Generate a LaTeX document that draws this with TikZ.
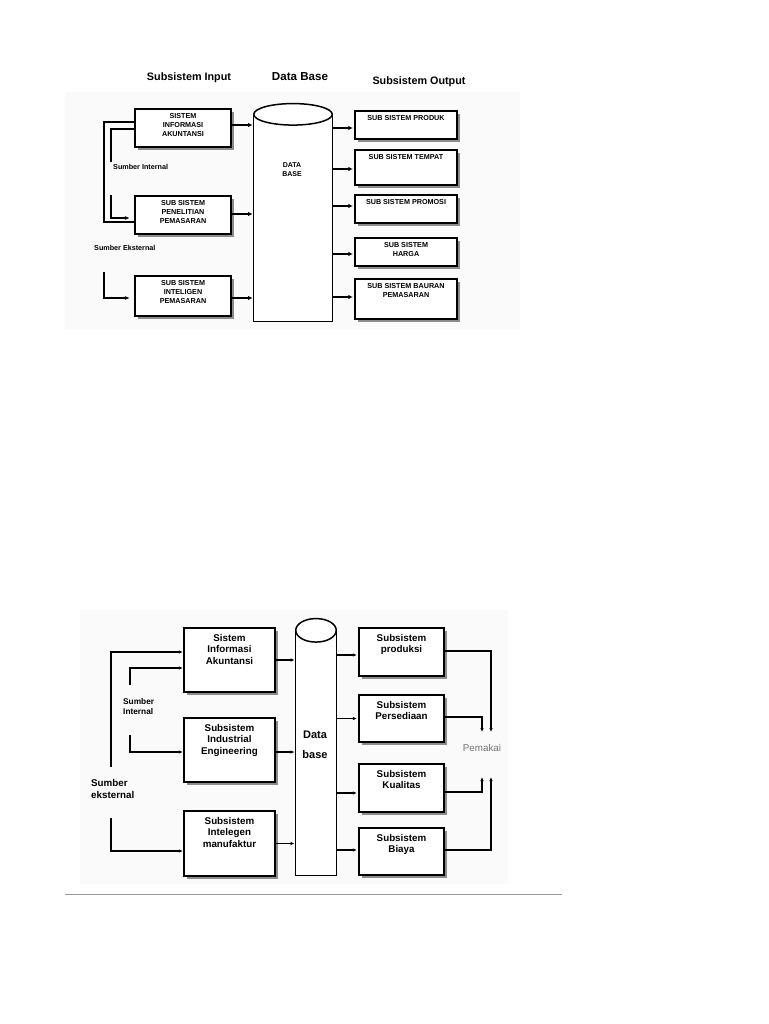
\documentclass[tikz,border=0pt]{standalone}
\usepackage{fontspec}
\setmainfont{Liberation Sans}
\usetikzlibrary{arrows.meta,shadows,positioning}

\begin{document}
\begin{tikzpicture}[x=1pt,y=-1pt,
    box/.style={draw,fill=white,line width=2.2pt,inner sep=0pt,
      drop shadow={shadow xshift=3pt,shadow yshift=-3pt,fill=black!45,opacity=1}},
    topbox/.style={box,label={[anchor=north,yshift=-5.2pt,inner sep=0pt,align=center,
      font=\fontsize{7.2}{9.2}\selectfont\bfseries]north:#1}},
    botbox/.style={box,label={[anchor=north,yshift=-7pt,inner sep=0pt,align=center,
      font=\fontsize{9.8}{11.5}\selectfont\bfseries]north:#1}},
    dbnode/.style={inner sep=0pt},
    dbline/.style={line width=1.5pt},
    head/.style={font=\fontsize{10.8}{13}\selectfont\bfseries},
    note/.style={anchor=west,align=left,inner sep=0pt},
    linkA/.style={line width=2pt},
    flowA/.style={line width=1.8pt,-{Latex[length=4.5pt,width=4.5pt]},shorten >=1pt},
    linkB/.style={line width=1.6pt},
    flowB/.style={line width=1.1pt,-{Latex[length=4pt,width=3.5pt]},shorten >=1pt},
    tipA/.style={-{Latex[length=5pt,width=4pt]},shorten >=4pt},
    tipB/.style={-{Latex[length=4pt,width=3.5pt]}}]

    \useasboundingbox (0,0) rectangle (768,1024);
    \fill[black!2] (65,92) rectangle (520,330);
    \fill[black!2] (80,610) rectangle (508,884);

    % atas
    \node[head] (hin) at (189,78) {Subsistem Input};
    \node[head,font=\fontsize{11.6}{13}\selectfont\bfseries] (hdb) at (300,77) {Data Base};
    \node[head] (hout) at (419,82) {Subsistem Output};

    \node[topbox={SISTEM\\INFORMASI\\AKUNTANSI},minimum width=96,minimum height=38] (sia) at (183,128) {};
    \node[topbox={SUB SISTEM\\PENELITIAN\\PEMASARAN},minimum width=96,minimum height=38] (riset) at (183,215) {};
    \node[topbox={SUB SISTEM\\INTELIGEN\\PEMASARAN},minimum width=96,minimum height=40] (intel) at (183,296) {};

    \node[dbnode,minimum width=78.5,minimum height=206.75] (db) at (293,217.9) {};
    \draw[dbline,fill=white] (db.north west) -- (db.south west) -- (db.south east) -- (db.north east);
    \draw[dbline,fill=white] (db.north) ellipse [x radius=39.25pt,y radius=10.75pt];
    \node[align=center,font=\fontsize{7}{9}\selectfont\bfseries] (dbt) at (292,170) {DATA\\BASE};

    \node[topbox={SUB SISTEM PRODUK},minimum width=102,minimum height=28] (produk) at (406,125) {};
    \node[topbox={SUB SISTEM TEMPAT},minimum width=102,minimum height=35] (tempat) at (406,167.5) {};
    \node[topbox={SUB SISTEM PROMOSI},minimum width=102,minimum height=28] (promosi) at (406,209) {};
    \node[topbox={SUB SISTEM\\HARGA},minimum width=102,minimum height=28] (harga) at (406,252) {};
    \node[topbox={SUB SISTEM BAURAN\\PEMASARAN},minimum width=102,minimum height=40] (bauran) at (406,299) {};

    \draw[flowA] ([yshift=3]sia.east) -- ([yshift=3]sia.east -| db.west);
    \draw[flowA] ([yshift=1]riset.east) -- ([yshift=1]riset.east -| db.west);
    \draw[flowA] ([yshift=-2]intel.east) -- ([yshift=-2]intel.east -| db.west);

    \draw[flowA] ([yshift=-3]produk.west -| db.east) -- ([yshift=-3]produk.west);
    \draw[flowA] ([yshift=-1.5]tempat.west -| db.east) -- ([yshift=-1.5]tempat.west);
    \draw[flowA] ([yshift=3]promosi.west -| db.east) -- ([yshift=3]promosi.west);
    \draw[flowA] ([yshift=-2]harga.west -| db.east) -- ([yshift=-2]harga.west);
    \draw[flowA] ([yshift=2]bauran.west -| db.east) -- ([yshift=2]bauran.west);

    \coordinate (si1) at (111,162);
    \coordinate (si2) at (111,195);
    \coordinate (se1) at (104,272);
    \draw[linkA] ([yshift=6]sia.west) -- ++(-30,0) |- ([yshift=-7]riset.west);
    \draw[linkA] ([yshift=-1]sia.west) -| (si1);
    \draw[linkA,tipA] (si2) |- ([yshift=-3]riset.west);
    \draw[linkA,tipA] (se1) |- ([yshift=-2]intel.west);

    \node[note,font=\fontsize{7.2}{9}\selectfont\bfseries] (sint) at (113,167) {Sumber Internal};
    \node[note,font=\fontsize{7.2}{9}\selectfont\bfseries] (seks) at (94,248) {Sumber Eksternal};

    % bawah
    \node[botbox={Sistem\\Informasi\\Akuntansi},minimum width=91,minimum height=64] (sia2) at (229.5,660) {};
    \node[botbox={Subsistem\\Industrial\\Engineering},minimum width=91,minimum height=64] (ie) at (229.5,750) {};
    \node[botbox={Subsistem\\Intelegen\\manufaktur},minimum width=91,minimum height=65] (im) at (229.5,843.5) {};

    \node[dbnode,minimum width=40.5,minimum height=244.75] (db2) at (316,752.9) {};
    \draw[dbline,fill=white] (db2.north west) -- (db2.south west) -- (db2.south east) -- (db2.north east);
    \draw[dbline,fill=white] (db2.north) ellipse [x radius=20.25pt,y radius=11.75pt];
    \node[align=center,font=\fontsize{11}{20}\selectfont\bfseries] (dbt2) at (315,745) {Data\\base};

    \node[botbox={Subsistem\\produksi},minimum width=85,minimum height=48] (prod2) at (401.5,652) {};
    \node[botbox={Subsistem\\Persediaan},minimum width=85,minimum height=47] (sedia) at (401.5,718.5) {};
    \node[botbox={Subsistem\\Kualitas},minimum width=85,minimum height=48] (kual) at (401.5,788) {};
    \node[botbox={Subsistem\\Biaya},minimum width=85,minimum height=47] (biaya) at (401.5,851.5) {};

    \draw[flowB] (sia2.east) -- (sia2.east -| db2.west);
    \draw[flowB] ([yshift=-2]ie.east) -- ([yshift=-2]ie.east -| db2.west);
    \draw[flowB] (im.east) -- (im.east -| db2.west);

    \draw[flowB] ([yshift=-3]prod2.west -| db2.east) -- ([yshift=-3]prod2.west);
    \draw[flowB] (sedia.west -| db2.east) -- (sedia.west);
    \draw[flowB] ([yshift=-5]kual.west -| db2.east) -- ([yshift=-5]kual.west);
    \draw[flowB] ([yshift=1.5]biaya.west -| db2.east) -- ([yshift=1.5]biaya.west);

    \coordinate (e1) at (111,767);
    \coordinate (i1) at (130,685);
    \coordinate (i2) at (130,735);
    \coordinate (e2) at (111,818);
    \draw[linkB,tipB] (e1) |- ([yshift=8]sia2.west);
    \draw[linkB,tipB] (i1) |- ([yshift=-8]sia2.west);
    \draw[linkB,tipB] (i2) |- ([yshift=-2]ie.west);
    \draw[linkB,tipB] (e2) |- ([yshift=-7.5]im.west);

    \node[note,font=\fontsize{8.3}{9.5}\selectfont\bfseries] (sint2) at (123,706.5) {Sumber\\Internal};
    \node[note,font=\fontsize{9.8}{12}\selectfont\bfseries] (seks2) at (91,789) {Sumber\\eksternal};

    \node[font=\fontsize{9.8}{12}\selectfont,text=black!55] (user) at (482,748) {Pemakai};
    \coordinate (u1) at (491,732);
    \coordinate (u2) at (482,732);
    \coordinate (u3) at (482,777);
    \coordinate (u4) at (491,777);
    \draw[linkB,tipB] ([yshift=1]prod2.east) -| (u1);
    \draw[linkB,tipB] ([yshift=1.5]sedia.east) -| (u2);
    \draw[linkB,tipB] ([yshift=-4]kual.east) -| (u3);
    \draw[linkB,tipB] ([yshift=1.5]biaya.east) -| (u4);

    \draw[black!40,line width=0.8pt] (65,894) -- (562,894);
\end{tikzpicture}
\end{document}
